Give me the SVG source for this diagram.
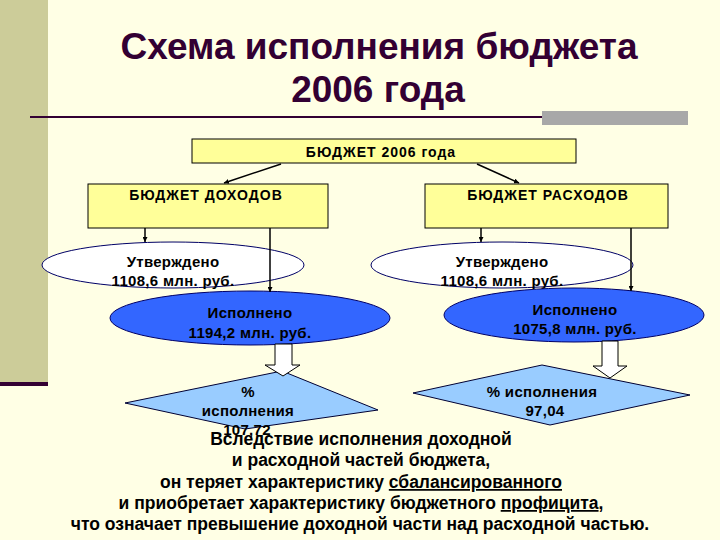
<svg xmlns="http://www.w3.org/2000/svg" width="720" height="540" viewBox="0 0 720 540">
<defs>
<style>
.t{font-family:"Liberation Sans",Arial,sans-serif;font-weight:bold;fill:#000;text-anchor:middle}
.box{fill:#FFFF99;stroke:#000;stroke-width:1}
.wel{fill:#FFFFFF;stroke:#000066;stroke-width:1}
.bel{fill:#3366FF;stroke:#000066;stroke-width:1}
.dia{fill:#99CCFF;stroke:#000033;stroke-width:1}
.ln{stroke:#000;stroke-width:1.5;fill:none}
.lab{font-size:15px;letter-spacing:0.3px}
.blk{fill:#FFFFFF;stroke:#000;stroke-width:1}
</style>
<marker id="ah" viewBox="0 0 10 10" refX="10" refY="5" markerWidth="5" markerHeight="5" orient="auto" markerUnits="userSpaceOnUse">
<path d="M0,0 L10,5 L0,10 z" fill="#000"/>
</marker>
</defs>
<rect x="0" y="0" width="720" height="540" fill="#FFFFE5"/>
<rect x="0" y="0" width="48" height="383" fill="#CCCC99"/>
<rect x="0" y="382" width="48" height="4" fill="#330033"/>
<text class="t" x="379" y="59" font-size="37" style="fill:#330033">Схема исполнения бюджета</text>
<text class="t" x="378" y="102" font-size="37" style="fill:#330033">2006 года</text>
<line x1="30" y1="117" x2="688" y2="117" stroke="#330033" stroke-width="2"/>
<rect x="542" y="111" width="146" height="14" fill="#A8A8A8"/>

<g id="budget">
<rect class="box" x="192" y="139" width="384" height="24"/>
<text class="t" x="381" y="157" font-size="14" letter-spacing="1">БЮДЖЕТ 2006 года</text>
</g>
<g id="income">
<rect class="box" x="88" y="184" width="240" height="44"/>
<text class="t" x="206" y="200" font-size="14" letter-spacing="1">БЮДЖЕТ ДОХОДОВ</text>
</g>
<g id="expense">
<rect class="box" x="425" y="184" width="243" height="44"/>
<text class="t" x="548" y="200" font-size="14" letter-spacing="1">БЮДЖЕТ РАСХОДОВ</text>
</g>
<g id="inc-approved">
<ellipse class="wel" cx="173" cy="265" rx="131" ry="23"/>
<text class="t lab" x="173" y="267">Утверждено</text>
<text class="t lab" x="173" y="286">1108,6 млн. руб.</text>
</g>
<g id="exp-approved">
<ellipse class="wel" cx="502" cy="265" rx="131" ry="23"/>
<text class="t lab" x="502" y="267">Утверждено</text>
<text class="t lab" x="502" y="286">1108,6 млн. руб.</text>
</g>
<g id="inc-done">
<ellipse class="bel" cx="250" cy="318" rx="140" ry="27"/>
<text class="t lab" x="250" y="318">Исполнено</text>
<text class="t lab" x="250" y="338">1194,2 млн. руб.</text>
</g>
<g id="exp-done">
<ellipse class="bel" cx="574" cy="315" rx="130" ry="27"/>
<text class="t lab" x="575" y="315">Исполнено</text>
<text class="t lab" x="575" y="334">1075,8 млн. руб.</text>
</g>
<g id="inc-pct">
<polygon class="dia" points="125,403 282,371 378,410 245,429"/>
<text class="t lab" x="248" y="397">%</text>
<text class="t lab" x="248" y="416">исполнения</text>
<text class="t lab" x="247" y="435">107,72</text>
</g>
<g id="exp-pct">
<polygon class="dia" points="413,393 542,365 690,395 550,425"/>
<text class="t lab" x="542" y="397">% исполнения</text>
<text class="t lab" x="545" y="416">97,04</text>
</g>

<g id="connectors">
<line class="ln" x1="281" y1="164" x2="224" y2="183" marker-end="url(#ah)"/>
<line class="ln" x1="477" y1="164" x2="519" y2="183" marker-end="url(#ah)"/>
<line class="ln" x1="145" y1="228" x2="145" y2="242" marker-end="url(#ah)"/>
<line class="ln" x1="270" y1="228" x2="270" y2="292" marker-end="url(#ah)"/>
<line class="ln" x1="481" y1="228" x2="481" y2="242" marker-end="url(#ah)"/>
<line class="ln" x1="631" y1="228" x2="631" y2="291" marker-end="url(#ah)"/>
<path class="blk" d="M275,344 L292,344 L292,365 L300,365 L283,376 L265,365 L275,365 Z"/>
<path class="blk" d="M602,341 L618,341 L618,366 L627,366 L610,378 L593,366 L602,366 Z"/>
</g>

<g id="conclusion">
<text class="t" x="361" y="445" font-size="17.5">Вследствие исполнения доходной</text>
<text class="t" x="361" y="466" font-size="17.5">и расходной частей бюджета,</text>
<text class="t" x="361" y="488" font-size="17.5">он теряет характеристику <tspan text-decoration="underline">сбалансированного</tspan></text>
<text class="t" x="361" y="509" font-size="17.5">и приобретает характеристику бюджетного <tspan text-decoration="underline">профицита</tspan>,</text>
<text class="t" x="360" y="530" font-size="17.5">что означает превышение доходной части над расходной частью.</text>
</g>
</svg>
